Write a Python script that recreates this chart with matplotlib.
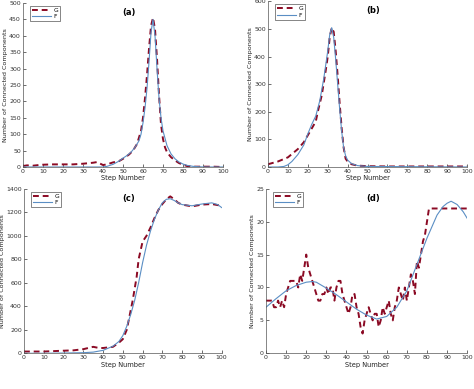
import numpy as np
import matplotlib
matplotlib.use("Agg")
import matplotlib.pyplot as plt

# panel (a)
a_g_x = [0, 2, 5, 8, 10, 15, 20, 25, 30, 35, 37, 40, 42, 45, 48, 50, 53, 55, 57, 58, 59, 60, 61, 62, 63, 64, 65, 66, 67, 68, 69, 70, 71, 72, 74, 76, 78, 80, 82, 85, 90, 95, 100]
a_g_y = [3, 5, 4, 6, 7, 8, 8, 8, 10, 13, 15, 6, 8, 14, 18, 25, 38, 50, 70, 90, 110, 150, 210, 280, 360, 430, 455, 420, 330, 220, 130, 85, 60, 45, 30, 20, 12, 7, 3, 1, 1, 1, 0]
a_f_x = [0, 10, 20, 30, 40, 42, 45, 48, 50, 52, 54, 56, 58, 59, 60, 61, 62, 63, 64, 65, 66, 67, 68, 69, 70, 72, 74, 76, 78, 80, 82, 85, 90, 100]
a_f_y = [0, 0, 0, 0, 0, 2, 8, 18, 27, 35, 45, 60, 80, 100, 135, 180, 240, 320, 410, 450, 400, 300, 210, 150, 110, 65, 40, 25, 15, 9, 5, 2, 0, 0]

# panel (b)
b_g_x = [0, 5, 10, 15, 18, 20, 22, 24, 25, 27, 29, 30, 31, 32, 33, 34, 35, 36, 37, 38, 39, 40, 42, 45, 50, 60, 70, 80, 90, 100]
b_g_y = [10, 20, 35, 65, 90, 115, 140, 165, 200, 260, 350, 400, 470, 505, 490, 420, 330, 230, 140, 70, 30, 20, 10, 5, 3, 2, 2, 2, 2, 2]
b_f_x = [0, 5, 8, 10, 12, 15, 18, 20, 22, 24, 26, 28, 30, 31, 32, 33, 34, 35, 36, 37, 38, 39, 40, 42, 45, 50, 100]
b_f_y = [0, 0, 2, 8, 20, 45, 80, 120, 155, 185, 240, 320, 420, 480, 505, 470, 390, 300, 210, 130, 70, 40, 25, 12, 5, 2, 0]

# panel (c)
c_g_x = [0, 10, 20, 25, 30, 35, 38, 40, 45, 48, 50, 52, 55, 57, 58, 60, 62, 64, 66, 68, 70, 72, 74, 76, 78, 80, 85, 90, 95, 100]
c_g_y = [15, 15, 22, 25, 35, 55, 45, 45, 55, 90, 120, 200, 450, 650, 800, 950, 1000, 1070, 1150, 1220, 1270, 1310, 1335, 1310, 1280, 1265, 1250, 1265, 1270, 1255]
c_f_x = [0, 10, 20, 30, 35, 40, 45, 48, 50, 52, 54, 56, 58, 60, 62, 64, 66, 68, 70, 72, 74, 76, 78, 80, 85, 90, 95, 98, 100]
c_f_y = [0, 0, 2, 5, 10, 25, 60, 100, 150, 230, 330, 450, 600, 770, 920, 1040, 1140, 1220, 1280, 1310, 1315, 1300, 1280, 1265, 1255, 1270, 1280, 1265, 1240]

# panel (d)
d_g_y = [8, 8, 8, 8, 7, 7, 8, 7, 8, 7, 9, 10, 11, 11, 11, 11, 10, 12, 11, 13,
         15, 13, 12, 11, 10, 9, 8, 8, 9, 9, 10, 9, 10, 10, 8, 10, 11, 11, 9, 8,
         7, 6, 7, 9, 9, 7, 6, 4, 3, 5, 6, 7, 6, 5, 6, 6, 4, 5, 7, 6,
         7, 8, 6, 5, 7, 8, 10, 9, 8, 10, 8, 10, 12, 11, 9, 14, 13, 15, 17, 18,
         20, 22, 22, 22, 22, 22, 22, 22, 22, 22, 22, 22, 22, 22, 22, 22, 22, 22, 22, 22, 22]
d_f_x = [0, 5, 10, 15, 20, 23, 25, 30, 35, 40, 45, 50, 55, 60, 65, 70, 75, 80, 85, 88, 90, 92, 95, 98, 100]
d_f_y = [7, 8.3, 9.5, 10.3, 10.8, 10.9, 10.8, 9.9, 8.9, 7.8, 6.7, 5.8, 5.2, 5.6, 7.0, 9.5, 13.5, 17.5, 21.0, 22.3, 22.8, 23.1, 22.6, 21.5, 20.5]

red = '#8b0a24'
blue = '#5a8ec4'

fig = plt.figure(figsize=(4.74, 3.89), dpi=100)

panels = [
    ([0.0485, 0.5707, 0.422, 0.4216], a_g_x, a_g_y, a_f_x, a_f_y, 500, 50, '(a)'),
    ([0.5654, 0.5707, 0.420, 0.4255], b_g_x, b_g_y, b_f_x, b_f_y, 600, 100, '(b)'),
    ([0.0506, 0.0918, 0.417, 0.423], c_g_x, c_g_y, c_f_x, c_f_y, 1400, 200, '(c)'),
    ([0.5612, 0.0918, 0.4245, 0.423], list(range(101)), d_g_y, d_f_x, d_f_y, 25, 5, '(d)'),
]

for rect, gx, gy, fx, fy, ymax, ystep, name in panels:
    ax = fig.add_axes(rect)
    ax.plot(gx, gy, '--', color=red, lw=1.4, dashes=(3, 2), label='G')
    ax.plot(fx, fy, '-', color=blue, lw=0.8, label='F')
    ax.set_xlim(0, 100)
    ax.set_ylim(0, ymax)
    ax.set_xticks(np.arange(0, 101, 10))
    ax.set_yticks(np.arange(0, ymax + 1, ystep))
    ax.spines['top'].set_visible(False)
    ax.spines['right'].set_visible(False)
    for s in ['left', 'bottom']:
        ax.spines[s].set_color('#555555')
        ax.spines[s].set_linewidth(0.5)
    ax.tick_params(direction='in', length=2, width=0.5, labelsize=4.5,
                   colors='#333333', pad=1.5)
    ax.set_xlabel('Step Number', fontsize=4.8, labelpad=1, color='#222222')
    ax.set_ylabel('Number of Connected Components', fontsize=4.6, labelpad=1, color='#222222')
    ax.text(0.53, 0.97, name, transform=ax.transAxes, ha='center', va='top',
            fontsize=6, fontweight='bold')
    leg = ax.legend(loc='upper left', fontsize=4.3, handlelength=3.2,
                    borderpad=0.3, labelspacing=0.2, handletextpad=0.4,
                    fancybox=False, framealpha=1, bbox_to_anchor=(0.02, 1.0))
    leg.get_frame().set_linewidth(0.5)
    leg.get_frame().set_edgecolor('#555555')

fig.savefig('out.png', dpi=100)
